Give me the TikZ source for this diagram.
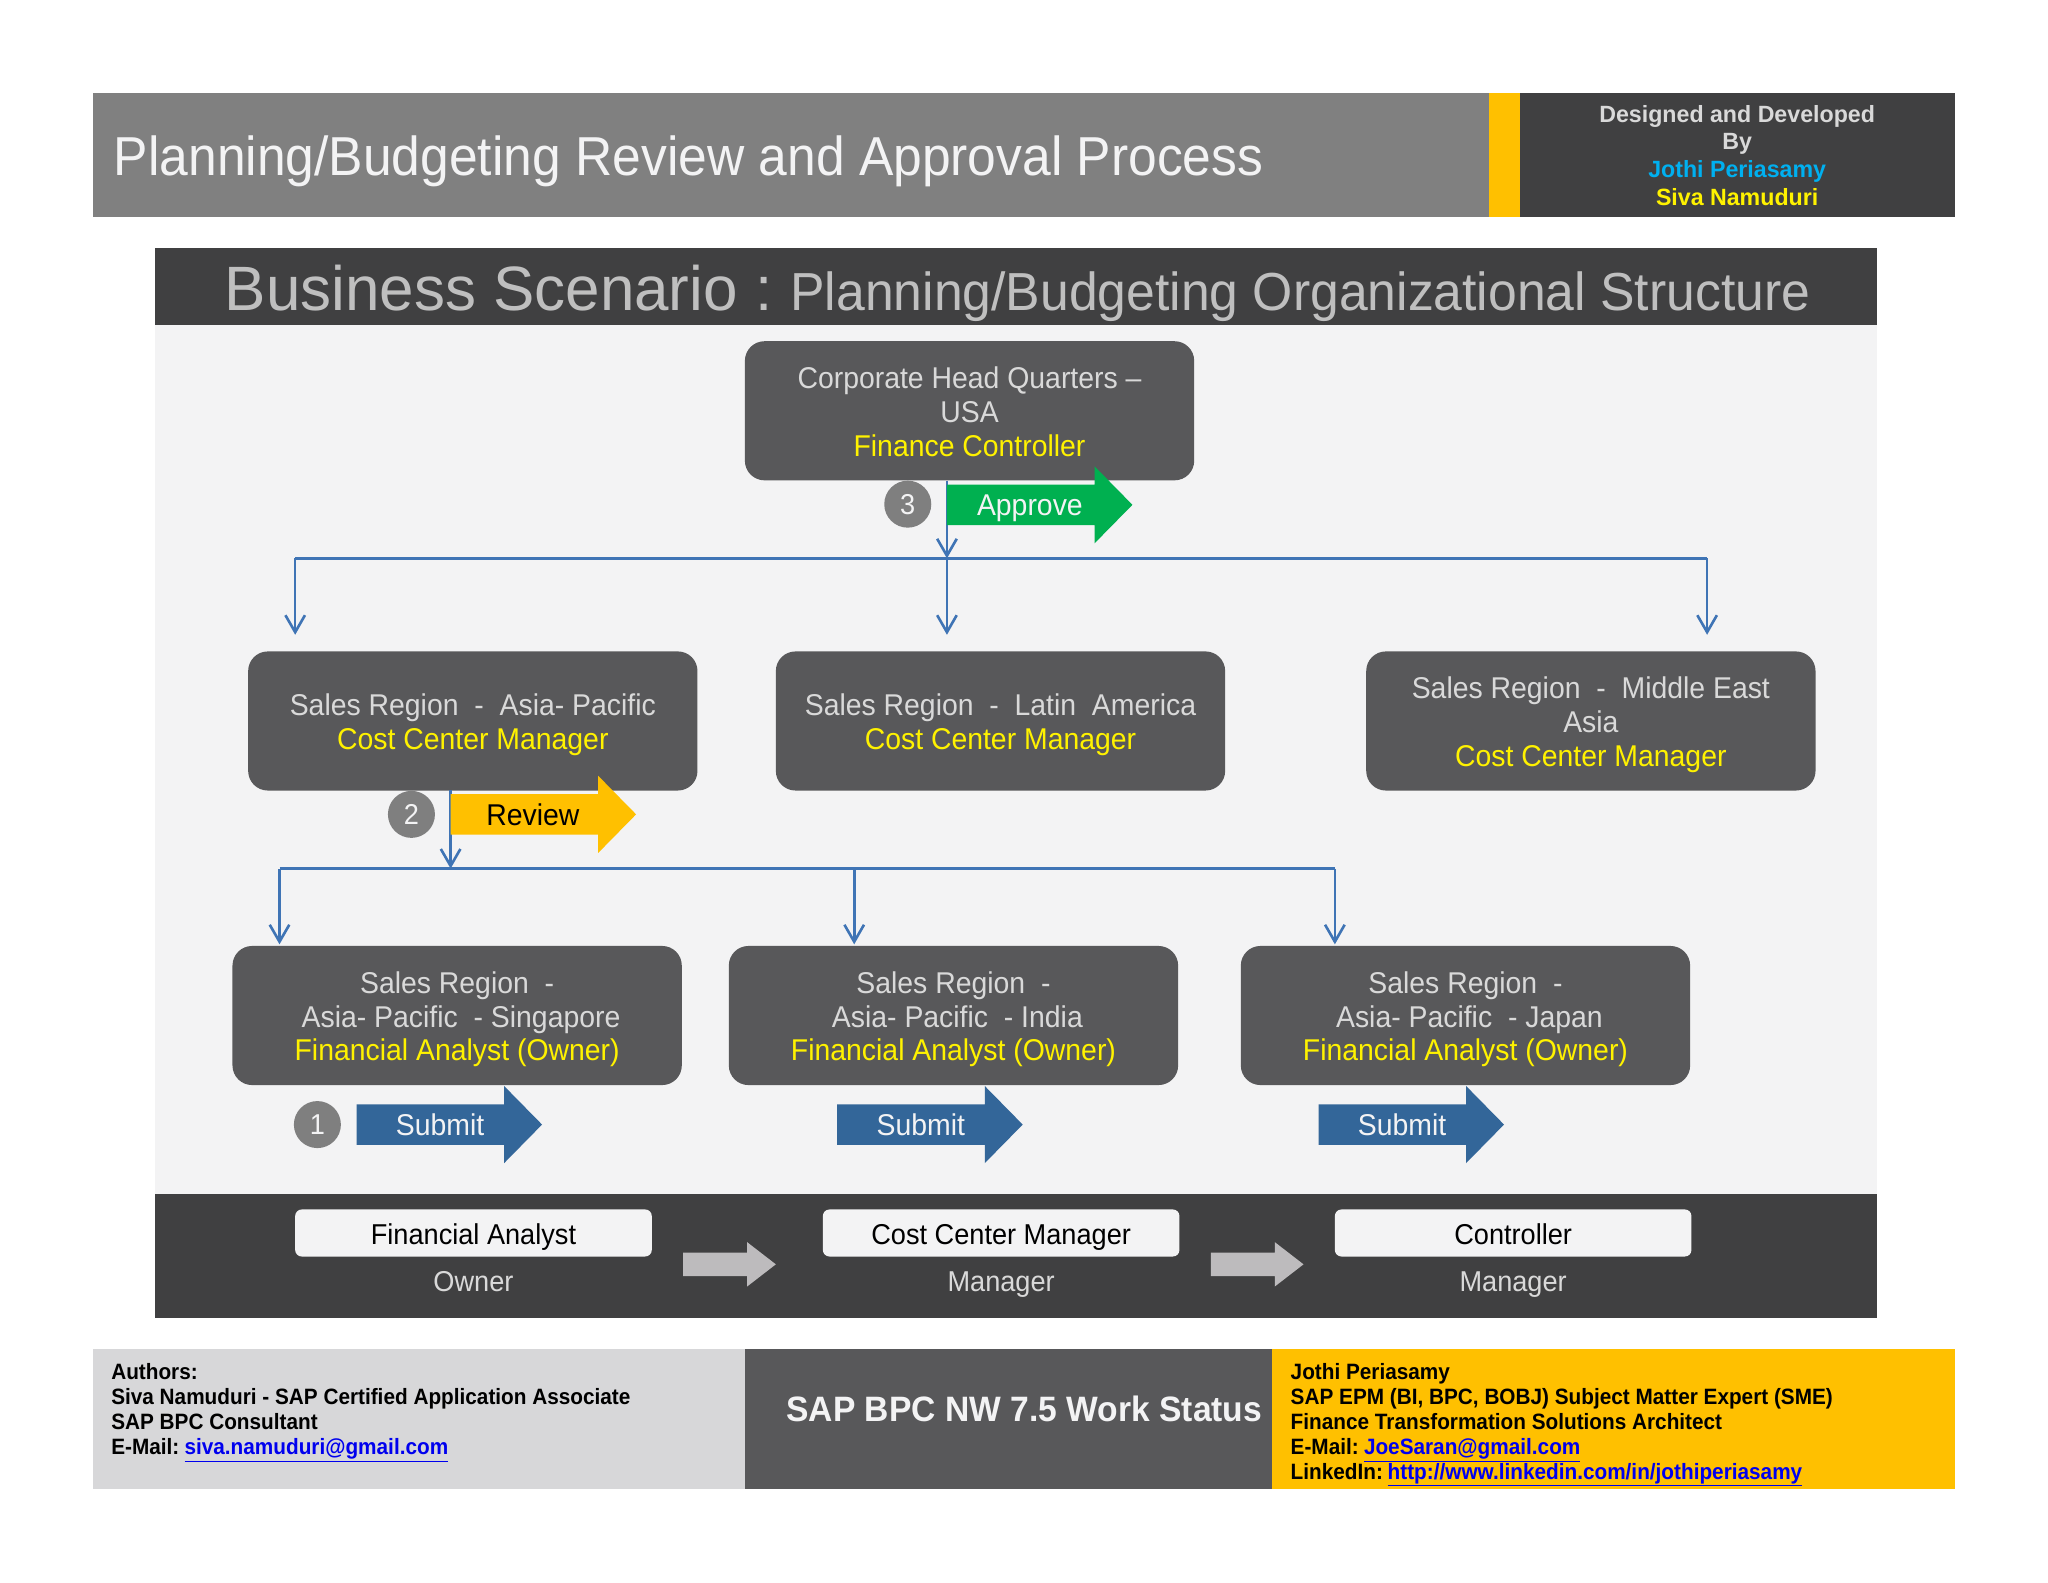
\documentclass[tikz,border=0pt]{standalone}
\usepackage{fontspec}
\setmainfont[FakeStretch=0.945]{Liberation Sans}
\newfontfamily\titlef[FakeStretch=0.94]{Liberation Sans}
\newfontfamily\footf[FakeStretch=0.935]{Liberation Sans}
\newfontfamily\scenaf[FakeStretch=0.988]{Liberation Sans}
\newfontfamily\scenbf[FakeStretch=0.965]{Liberation Sans}
\newfontfamily\credf[FakeStretch=0.986]{Liberation Sans}
\newfontfamily\statf[FakeStretch=0.953]{Liberation Sans}
\usetikzlibrary{arrows.meta,calc}
\definecolor{bardark}{HTML}{404041}
\definecolor{boxdark}{HTML}{58585A}
\definecolor{headgrey}{HTML}{808080}
\definecolor{amber}{HTML}{FFC000}
\definecolor{panel}{HTML}{F3F3F4}
\definecolor{softtext}{HTML}{D9D9D9}
\definecolor{titletext}{HTML}{BFBFBF}
\definecolor{wire}{HTML}{3F74B5}
\definecolor{subblue}{HTML}{336699}
\definecolor{okgreen}{HTML}{00B050}
\definecolor{footgrey}{HTML}{D7D7D9}
\definecolor{arrowgrey}{HTML}{BDBBBD}
\definecolor{discgrey}{HTML}{7F7F7F}
\definecolor{linkblue}{HTML}{0000EE}
\definecolor{skyname}{HTML}{00B0F0}
\newcommand{\fsl}[2]{\fontsize{#1}{#2}\selectfont}
\newcommand{\lnk}[1]{\textcolor{linkblue}{\underline{#1}}}
\newcommand{\role}[1]{\textcolor{yellow}{#1}}
\newcommand{\fl}{\rule{0pt}{22.6pt}}
\newcommand{\bigarrow}[3]{\fill[#3] (#1,#2-15.5) -- ++(113,0) -- ++(0,-14) -- ++(29,29.5) -- ++(-29,29.5) -- ++(0,-14) -- ++(-113,0) -- cycle;}
\newcommand{\greyarrow}[2]{\fill[arrowgrey] (#1,#2-9) -- ++(49,0) -- ++(0,-8) -- ++(22,17) -- ++(-22,17) -- ++(0,-8) -- ++(-49,0) -- cycle;}
\tikzset{
  orgbox/.style={fill=boxdark,rounded corners=15pt,minimum width=344pt,minimum height=106.5pt,
    align=center,text=softtext,inner sep=0pt,font=\fsl{23}{26},
    execute at end node={\rule[-5pt]{0pt}{5pt}}},
  rolebox/.style={fill=panel,rounded corners=5pt,minimum width=273pt,minimum height=36pt,inner sep=0pt,text=black,font=\fsl{22}{26},
    execute at begin node={\rule[-5pt]{0pt}{27.6pt}}},
  rolelabel/.style={text=softtext,inner sep=0pt,font=\fsl{22}{26},
    execute at begin node={\rule[-5pt]{0pt}{25.6pt}}},
  disc/.style={circle,fill=discgrey,text=panel,minimum size=36pt,inner sep=0pt,font=\fsl{22}{26}},
  arrowlabel/.style={inner sep=0pt,font=\fsl{23}{26},
    execute at begin node={\rule[-5pt]{0pt}{22pt}}},
  wireline/.style={draw=wire,line width=2pt},
  wirearrow/.style={wireline,-{Straight Barb[length=13pt,width=15pt,line width=2pt]}},
  foot/.style={inner sep=0pt,anchor=north west,align=left,text=black,font=\footf\fsl{17}{19}\bfseries},
}
\begin{document}
\begin{tikzpicture}[x=1pt,y=-1pt]
\useasboundingbox (0,0) rectangle (1568,1211.3);
% header
\fill[headgrey] (71,71) rectangle (1140,166);
\fill[amber] (1140,71) rectangle (1164,166);
\fill[bardark] (1164,71) rectangle (1497,166);
\node[anchor=west,inner sep=0pt,text=panel,font=\titlef\fsl{42}{48}] (title) at (87,123.5) {Planning/Budgeting Review and Approval Process};
\node[align=center,inner sep=0pt,font=\credf\fsl{18}{21.3}\bfseries,text=softtext] (credit) at (1330,119)
  {Designed and Developed\\By\\\textcolor{skyname}{Jothi Periasamy}\\\role{Siva Namuduri}};
% scenario bar and panel
\fill[panel] (119,249) rectangle (1437,914);
\fill[bardark] (119,190) rectangle (1437,249);
\node[anchor=base west,inner sep=0pt,text=titletext,font=\scenaf\fsl{48}{54}] (scen) at (172,238) {Business Scenario :};
\node[anchor=base west,inner sep=0pt,text=titletext,font=\scenbf\fsl{41}{48}] (scenb) at (605,238) {Planning/Budgeting Organizational Structure};
% org boxes
\node[orgbox] (hq) at (742.3,314.5) {\fl Corporate Head Quarters --\\USA\\\role{Finance Controller}};
\node[orgbox] (apac) at (362,552) {\fl Sales Region~~-~~Asia- Pacific\\\role{Cost Center Manager}};
\node[orgbox] (latam) at (766,552) {\fl Sales Region~~-~~Latin~~America\\\role{Cost Center Manager}};
\node[orgbox] (mea) at (1218,552) {\fl Sales Region~~-~~Middle East\\Asia\\\role{Cost Center Manager}};
\node[orgbox] (sg) at (350,777.5) {\fl Sales Region~~-\\\hspace*{6pt}Asia- Pacific~~- Singapore\\\role{Financial Analyst (Owner)}};
\node[orgbox] (in) at (730,777.5) {\fl Sales Region~~-\\\hspace*{6pt}Asia- Pacific~~- India\\\role{Financial Analyst (Owner)}};
\node[orgbox] (jp) at (1122,777.5) {\fl Sales Region~~-\\\hspace*{6pt}Asia- Pacific~~- Japan\\\role{Financial Analyst (Owner)}};
% upper connectors
\coordinate (hqout) at (725,368);
\coordinate (busa) at (725,427.5);
\coordinate (busal) at (226,427.5);
\coordinate (busar) at (1307,427.5);
\coordinate (enda) at (226,486);
\coordinate (endb) at (725,486);
\coordinate (endc) at (1307,486);
\draw[wirearrow] (hqout) -- (busa);
\draw[wireline] (busal) -- (busar);
\draw[wirearrow] (busal) -- (enda);
\draw[wirearrow] (busa) -- (endb);
\draw[wirearrow] (busar) -- (endc);
% lower connectors
\coordinate (apout) at (345,605);
\coordinate (busb) at (345,665);
\coordinate (busbl) at (214,665);
\coordinate (busbm) at (654,665);
\coordinate (busbr) at (1022,665);
\coordinate (endd) at (214,723);
\coordinate (ende) at (654,723);
\coordinate (endf) at (1022,723);
\draw[wirearrow] (apout) -- (busb);
\draw[wireline] (busbl) -- (busbr);
\draw[wirearrow] (busbl) -- (endd);
\draw[wirearrow] (busbm) -- (ende);
\draw[wirearrow] (busbr) -- (endf);
% block arrows
\bigarrow{725}{386.5}{okgreen}
\node[arrowlabel,text=panel] (approve) at (788.5,389) {Approve};
\bigarrow{345}{623.5}{amber}
\node[arrowlabel,text=black] (review) at (408,626) {Review};
\bigarrow{273}{861}{subblue}
\node[arrowlabel,text=panel] (suba) at (337,863.5) {Submit};
\bigarrow{641}{861}{subblue}
\node[arrowlabel,text=panel] (subb) at (705,863.5) {Submit};
\bigarrow{1009.5}{861}{subblue}
\node[arrowlabel,text=panel] (subc) at (1073.5,863.5) {Submit};
% step discs
\node[disc] (stepc) at (695,386) {3};
\node[disc] (stepb) at (315,623.5) {2};
\node[disc] (stepa) at (243,861) {1};
% legend bar
\fill[bardark] (119,914) rectangle (1437,1009);
\node[rolebox] (fa) at (362.5,944) {Financial Analyst};
\node[rolebox] (ccm) at (766.5,944) {Cost Center Manager};
\node[rolebox] (ctrl) at (1158.5,944) {Controller};
\node[rolelabel] (ow) at (362.5,981) {Owner};
\node[rolelabel] (mg) at (766.5,981) {Manager};
\node[rolelabel] (mgb) at (1158.5,981) {Manager};
\greyarrow{523}{968}
\greyarrow{927}{968}
% footer
\fill[footgrey] (71,1033) rectangle (570,1140);
\fill[boxdark] (570,1033) rectangle (974,1140);
\fill[amber] (974,1033) rectangle (1497,1140);
\node[foot] (authors) at (85,1044) {Authors:\\Siva Namuduri - SAP Certified Application Associate\\SAP BPC Consultant\\E-Mail:\hspace{4pt}\lnk{siva.namuduri@gmail.com}};
\node[anchor=west,inner sep=0pt,text=panel,font=\statf\fsl{27}{32}\bfseries] (status) at (602,1079) {SAP BPC NW 7.5 Work Status};
\node[foot] (jothi) at (988,1044) {Jothi Periasamy\\SAP EPM (BI, BPC, BOBJ) Subject Matter Expert (SME)\\Finance Transformation Solutions Architect\\E-Mail:\hspace{4pt}\lnk{JoeSaran@gmail.com}\\LinkedIn:\hspace{3.6pt}\lnk{http://www.linkedin.com/in/jothiperiasamy}};
\end{tikzpicture}
\end{document}
